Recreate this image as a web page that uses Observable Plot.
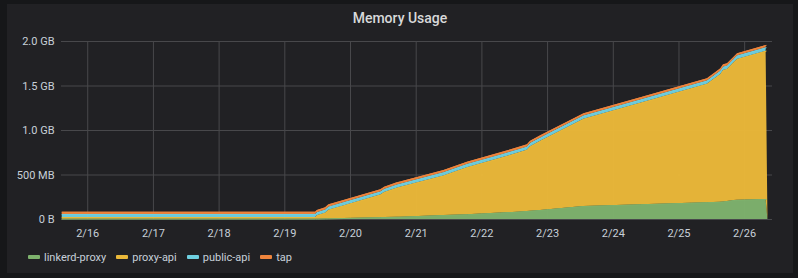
<!DOCTYPE html>
<html>
<head>
<meta charset="utf-8">
<script src="https://cdn.jsdelivr.net/npm/d3@7"></script>
<script src="https://cdn.jsdelivr.net/npm/@observablehq/plot@0.6"></script>
<style>
  html, body { margin: 0; padding: 0; background: #161719; }
  #wrap { position: relative; width: 798px; height: 278px; overflow: hidden; background: #161719; font-family: Roboto, "Noto Sans", sans-serif; }
  #panel { position: absolute; left: 7px; top: 4px; width: 786px; height: 269px; background: #212124; }
  #title { position: absolute; left: 7px; width: 786px; top: 8px; height: 20px; line-height: 20px; text-align: center; font-size: 14px; font-weight: 500; color: #d8d9da; }
  #chart { position: absolute; left: 0; top: 28px; }
  #legend { position: absolute; left: 28px; top: 249px; height: 16px; display: flex; align-items: center; font-size: 11px; color: #c7d0d9; }
  .item { display: flex; align-items: center; margin-right: 10px; }
  .sw { width: 12px; height: 4px; margin-right: 4px; border-radius: 1px; }
</style>
</head>
<body>
<div id="wrap">
  <div id="panel"></div>
  <div id="title">Memory Usage</div>
  <div id="chart"></div>
  <div id="legend"></div>
</div>
<script>
// ---- data (values in GB) ----
const seriesNames = ["linkerd-proxy", "proxy-api", "public-api", "tap"];
const seriesColors = ["#7eb26d", "#eab839", "#6ed0e0", "#ef843c"];

const times = [
  "2019-02-15T14:40Z", "2019-02-19T11:10Z", "2019-02-19T11:50Z", "2019-02-19T14:50Z",
  "2019-02-19T16:05Z", "2019-02-19T21:30Z", "2019-02-20T11:00Z", "2019-02-20T12:25Z",
  "2019-02-20T17:00Z", "2019-02-20T18:15Z", "2019-02-21T10:05Z", "2019-02-21T18:40Z",
  "2019-02-22T06:50Z", "2019-02-22T13:00Z", "2019-02-22T16:35Z", "2019-02-22T17:45Z",
  "2019-02-22T21:25Z", "2019-02-23T00:30Z", "2019-02-23T13:15Z", "2019-02-24T10:00Z",
  "2019-02-25T04:15Z", "2019-02-25T10:20Z", "2019-02-25T15:15Z", "2019-02-25T16:15Z",
  "2019-02-25T17:40Z", "2019-02-25T20:05Z", "2019-02-25T21:20Z", "2019-02-26T07:50Z",
  "2019-02-26T08:30Z"
];

const linkerdProxy = [
  0.004, 0.004, 0.004, 0.006, 0.007, 0.011, 0.021, 0.022, 0.025, 0.026,
  0.044, 0.053, 0.072, 0.082, 0.090, 0.093, 0.101, 0.110, 0.146, 0.165,
  0.183, 0.189, 0.194, 0.197, 0.201, 0.213, 0.215, 0.225, 0
];
const proxyApi = [
  0.018, 0.018, 0.037, 0.065, 0.098, 0.142, 0.253, 0.281, 0.327, 0.336,
  0.445, 0.529, 0.615, 0.661, 0.687, 0.725, 0.777, 0.817, 0.980, 1.141,
  1.283, 1.330, 1.435, 1.477, 1.484, 1.547, 1.583, 1.666, 0
];
const publicApi = [
  0.034, 0.034, 0.034, 0.034, 0.034, 0.034, 0.034, 0.034, 0.034, 0.034,
  0.036, 0.036, 0.036, 0.036, 0.036, 0.036, 0.036, 0.036, 0.036, 0.036,
  0.036, 0.036, 0.038, 0.038, 0.038, 0.038, 0.038, 0.038, 0
];
const tap = [
  0.026, 0.026, 0.026, 0.026, 0.026, 0.026, 0.026, 0.026, 0.026, 0.026,
  0.026, 0.026, 0.026, 0.026, 0.026, 0.026, 0.026, 0.026, 0.026, 0.026,
  0.026, 0.026, 0.026, 0.026, 0.026, 0.026, 0.026, 0.026, 0
];

const yTicks = [0, 0.5, 1, 1.5, 2];
const yTickLabels = ["0 B", "500 MB", "1.0 GB", "1.5 GB", "2.0 GB"];
const xTicks = [
  "2019-02-16T00:00Z", "2019-02-17T00:00Z", "2019-02-18T00:00Z", "2019-02-19T00:00Z",
  "2019-02-20T00:00Z", "2019-02-21T00:00Z", "2019-02-22T00:00Z", "2019-02-23T00:00Z",
  "2019-02-24T00:00Z", "2019-02-25T00:00Z", "2019-02-26T00:00Z"
];
const xTickLabels = ["2/16", "2/17", "2/18", "2/19", "2/20", "2/21", "2/22", "2/23", "2/24", "2/25", "2/26"];
const xDomain = ["2019-02-15T14:25Z", "2019-02-26T10:10Z"];

// ---- build table ----
const seriesValues = [linkerdProxy, proxyApi, publicApi, tap];
const data = times.flatMap((t, i) =>
  seriesNames.map((s, k) => ({time: new Date(t), series: s, value: seriesValues[k][i]}))
);
const lineData = data.filter(d => d.value > 0);
const xTickDates = xTicks.map(d => new Date(d));
const xLabel = d => xTickLabels[xTickDates.findIndex(t => +t === +d)];
const yLabel = d => yTickLabels[yTicks.indexOf(d)];
const gridColor = "#48484b";

const chart = Plot.plot({
  width: 798,
  height: 212,
  marginLeft: 61,
  marginRight: 26,
  marginTop: 13,
  marginBottom: 21,
  style: {background: "transparent", color: "#c7d0d9", fontFamily: "Roboto, 'Noto Sans', sans-serif", fontSize: "11px"},
  x: {type: "utc", domain: xDomain.map(d => new Date(d))},
  y: {domain: [0, 2]},
  color: {domain: seriesNames, range: seriesColors},
  marks: [
    Plot.gridY({ticks: yTicks, stroke: gridColor, strokeOpacity: 1}),
    Plot.gridX({ticks: xTickDates, stroke: gridColor, strokeOpacity: 1}),
    Plot.areaY(data, Plot.stackY({x: "time", y: "value", fill: "series", fillOpacity: 0.97})),
    Plot.lineY(lineData, Plot.stackY2({x: "time", y: "value", z: "series", stroke: "series", strokeWidth: 1})),
    Plot.axisY({ticks: yTicks, tickSize: 0, tickPadding: 7, tickFormat: yLabel, label: null}),
    Plot.axisX({ticks: xTickDates, tickSize: 0, tickPadding: 10, tickFormat: xLabel, label: null})
  ]
});
document.getElementById("chart").appendChild(chart);

// ---- legend ----
const legend = document.getElementById("legend");
seriesNames.forEach((s, i) => {
  const item = document.createElement("div");
  item.className = "item";
  const sw = document.createElement("div");
  sw.className = "sw";
  sw.style.background = seriesColors[i];
  const label = document.createElement("span");
  label.textContent = s;
  item.appendChild(sw);
  item.appendChild(label);
  legend.appendChild(item);
});
</script>
</body>
</html>
